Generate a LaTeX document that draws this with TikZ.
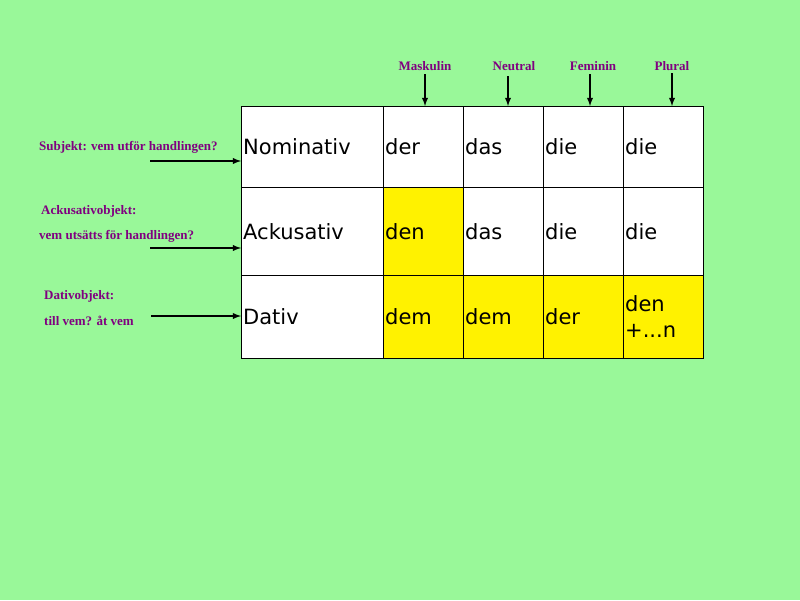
\documentclass[tikz,border=0pt]{standalone}
\usepackage{fontspec}
\setsansfont{DejaVu Sans}
\newfontfamily\lab{Liberation Serif}
\definecolor{bg}{HTML}{99F899}
\definecolor{lab}{HTML}{800080}
\begin{document}
\begin{tikzpicture}[x=1pt,y=-1pt,
  cell/.style={draw=black,line width=0.8pt},
  ctext/.style={anchor=west,inner sep=0pt,font=\sffamily\fontsize{21}{26}\selectfont},
  ltext/.style={text=lab,font=\lab\bfseries\fontsize{13}{15}\selectfont,inner sep=0pt},
  arr/.style={-latex,line width=1.8pt}]
\fill[bg] (0,0) rectangle (800,600);
\useasboundingbox (0,0) rectangle (800,600);
\fill[yellow] (383,187) rectangle (463,275);
\fill[yellow] (383,275) rectangle (703,358);
\fill[white] (241,106) rectangle (703,187);
\fill[white] (463,187) rectangle (703,275);
\fill[white] (241,187) rectangle (383,358);
\draw[cell] (241,106) rectangle (703,358);
\foreach \x in {383,463,543,623} \draw[cell] (\x,106) -- (\x,358);
\foreach \y in {187,275} \draw[cell] (241,\y) -- (703,\y);
\node[ctext] (n1) at (243,147) {Nominativ};
\node[ctext] (n2) at (385,147) {der};
\node[ctext] (n3) at (465,147) {das};
\node[ctext] (n4) at (545,147) {die};
\node[ctext] (n5) at (625,147) {die};
\node[ctext] (a1) at (243,232) {Ackusativ};
\node[ctext] (a2) at (385,232) {den};
\node[ctext] (a3) at (465,232) {das};
\node[ctext] (a4) at (545,232) {die};
\node[ctext] (a5) at (625,232) {die};
\node[ctext] (d1) at (243,317) {Dativ};
\node[ctext] (d2) at (385,317) {dem};
\node[ctext] (d3) at (465,317) {dem};
\node[ctext] (d4) at (545,317) {der};
\node[ctext,align=left] (d5) at (625,317) {den\\+...n};
\node[ltext] (m) at (425,66) {Maskulin};
\node[ltext] (ne) at (514,66) {Neutral};
\node[ltext] (f) at (593,66) {Feminin};
\node[ltext] (p) at (672,66) {Plural};
\coordinate (mt) at (425,106); \coordinate (net) at (508,106);
\coordinate (ft) at (590,106); \coordinate (pt) at (672,106);
\draw[arr] (425,74) -- (mt);
\draw[arr] (508,76) -- (net);
\draw[arr] (590,74) -- (ft);
\draw[arr] (672,73) -- (pt);
\node[ltext,anchor=west] (s) at (39,147) {Subjekt: vem utför handlingen?};
\node[ltext,anchor=west] (ak1) at (41,211) {Ackusativobjekt:};
\node[ltext,anchor=west] (ak2) at (39,236) {vem utsätts för handlingen?};
\node[ltext,anchor=west] (da1) at (44,296) {Dativobjekt:};
\node[ltext,anchor=west] (da2) at (44,321) {till vem? åt vem};
\coordinate (l1) at (150,161); \coordinate (l2) at (150,248); \coordinate (l3) at (151,316);
\draw[arr] (l1) -- (241,161);
\draw[arr] (l2) -- (241,248);
\draw[arr] (l3) -- (241,316);
\end{tikzpicture}
\end{document}
